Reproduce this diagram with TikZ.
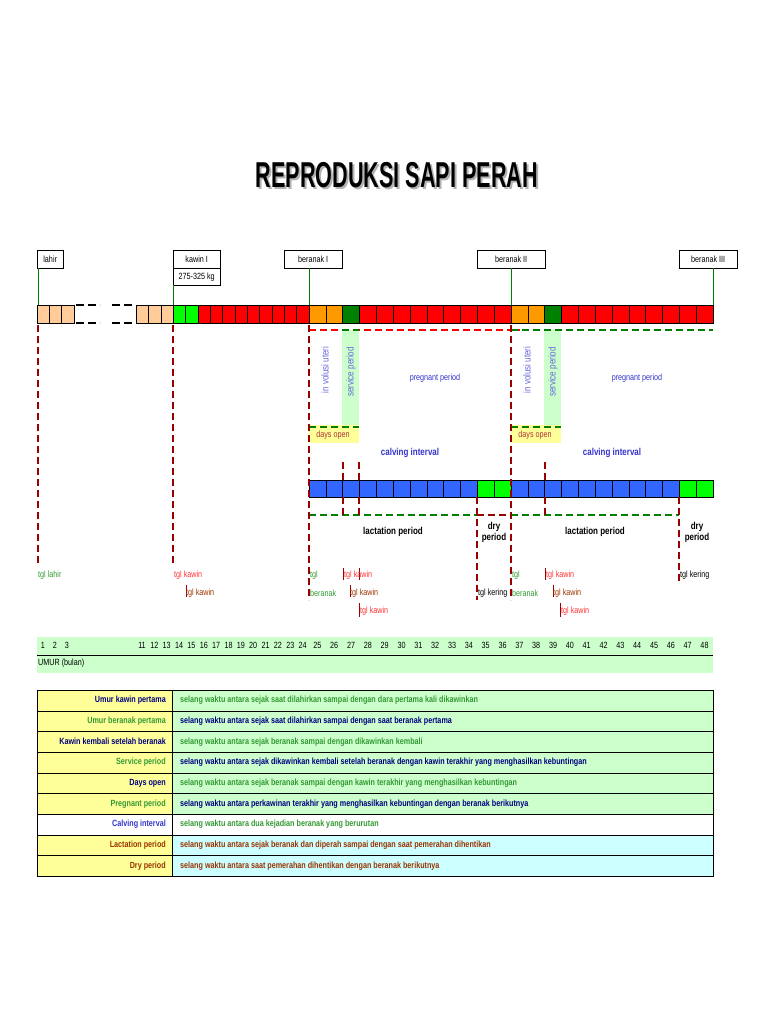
\documentclass[tikz,border=0pt]{standalone}
\usepackage{fontspec}
\setmainfont{Liberation Sans}[FakeStretch=0.8]
\newfontfamily\titlefont{Liberation Sans}[FakeStretch=0.6]
\definecolor{peach}{HTML}{FFCC99}
\definecolor{lgreen}{HTML}{00FF00}
\definecolor{dgreen}{HTML}{008000}
\definecolor{orng}{HTML}{FF9900}
\definecolor{bblue}{HTML}{3366FF}
\definecolor{pale}{HTML}{CCFFCC}
\definecolor{yel}{HTML}{FFFF99}
\definecolor{cyn}{HTML}{CCFFFF}
\definecolor{dred}{HTML}{990000}
\definecolor{navy}{HTML}{000080}
\definecolor{txg}{HTML}{339933}
\definecolor{txb}{HTML}{3333CC}
\definecolor{brn}{HTML}{993300}
\definecolor{txr}{HTML}{FF3333}
\begin{document}
\begin{tikzpicture}[x=1pt,y=-1pt,
  lab/.style={draw,fill=white,inner sep=1pt,font=\fontsize{9}{10}\selectfont,anchor=north west},
  small/.style={font=\fontsize{9}{10}\selectfont,inner sep=0pt},
  vd/.style={dred,dashed,dash pattern=on 7pt off 4pt,line width=1.4pt},
  gd/.style={dgreen,dash pattern=on 7pt off 4pt,line width=1.4pt},
  rd/.style={red,dash pattern=on 7pt off 4pt,line width=1.4pt},
  gl/.style={dgreen,line width=1pt},
  bold/.style={font=\fontsize{10}{11}\selectfont\bfseries,inner sep=0pt}]
\useasboundingbox (0,0) rectangle (768,1024);
% title
\node[font=\titlefont\bfseries\fontsize{36}{38}\selectfont,text=gray!60,inner sep=0pt] at (399,177) {REPRODUKSI SAPI PERAH};
\node[font=\titlefont\bfseries\fontsize{36}{38}\selectfont,inner sep=0pt] (title) at (397,175) {REPRODUKSI SAPI PERAH};
% top bar cells
\def\cellw{16.83}
\foreach \x in {37,49.3,61.6} \draw[fill=peach] (\x,305) rectangle ++(12.3,18);
\foreach \i in {0,1,2} \draw[fill=peach] ({136+\i*12.36},305) rectangle ++(12.36,18);
\foreach \i in {3,4} \draw[fill=lgreen] ({136+\i*12.36},305) rectangle ++(12.36,18);
\foreach \i in {5,...,13} \draw[fill=red] ({136+\i*12.36},305) rectangle ++(12.36,18);
\foreach \k in {25,...,48}{
  \pgfmathtruncatemacro{\m}{mod(\k-25,12)}
  \ifnum\m<2 \def\cc{orng}\else\ifnum\m=2 \def\cc{dgreen}\else\def\cc{red}\fi\fi
  \draw[fill=\cc] ({309+(\k-25)*\cellw},305) rectangle ++(\cellw,18);
}
% dashes in gap
\draw[line width=2pt,dash pattern=on 8pt off 4pt] (76,305) -- (100,305) (112,305) -- (134,305) (76,323) -- (100,323) (112,323) -- (134,323);
\fill[white] (101,303) rectangle (111,325);
% label boxes
\node[lab,minimum width=26pt,minimum height=18pt] (lahir) at (37,250) {lahir};
\node[lab,minimum width=47pt,minimum height=18pt] (kawin) at (173,250) {kawin I};
\node[lab,minimum width=47pt,minimum height=17pt] (kg) at (173,268) {275-325 kg};
\node[lab,minimum width=58pt,minimum height=18pt] (ber1) at (284,250) {beranak I};
\node[lab,minimum width=68pt,minimum height=18pt] (ber2) at (477,250) {beranak II};
\node[lab,minimum width=58pt,minimum height=18pt] (ber3) at (679,250) {beranak III};
\coordinate (c1) at (38,305); \coordinate (c2) at (173,305); \coordinate (c3) at (309,305);
\coordinate (c4) at (511,305); \coordinate (c5) at (713,305);
\draw[gl] (38,268) -- (c1); \draw[gl] (kg.south west) -- (c2);
\draw[gl] (309,268) -- (c3); \draw[gl] (511,268) -- (c4); \draw[gl] (713,268) -- (c5);
% regions
\foreach \o in {0,202}{
 \fill[pale] ({342+\o},330) rectangle ({359+\o},425);
 \fill[yel] ({309+\o},425) rectangle ({359+\o},443);
 \draw[gd] ({309+\o},427) -- ({359+\o},427);
 \node[rotate=90,font=\fontsize{10}{11}\selectfont,inner sep=0pt,text=txb!75] at ({325+\o},370) {in volusi uteri};
 \node[rotate=90,font=\fontsize{10}{11}\selectfont,inner sep=0pt,text=txb!75] at ({351+\o},372) {service period};
 \node[small,text=dred!80] at ({333+\o},435) {days open};
 \node[small,text=txb] at ({435+\o},378) {pregnant period};
 \node[bold,text=txb] at ({410+\o},453) {calving interval};
 \node[bold] at ({393+\o},532) {lactation period};
}
\draw[rd] (309,330) -- (520,330);
\draw[gd] (511,330) -- (713,330);
\draw[gd] (342,330) -- (359,330);
% blue bar
\foreach \k in {25,...,48}{
  \pgfmathtruncatemacro{\m}{mod(\k-25,12)}
  \ifnum\m>9 \def\cc{lgreen}\else\def\cc{bblue}\fi
  \draw[fill=\cc] ({309+(\k-25)*\cellw},480) rectangle ++(\cellw,17);
}
\draw[gd] (309,515) -- (477,515);
\draw[gd] (511,515) -- (679,515);
\draw[vd] (477,515) -- (511,515);
\node[bold,align=center] at (494,532) {dry\\period};
\node[bold,align=center] at (697,532) {dry\\period};
% vertical dashed lines
\draw[vd] (38,325) -- (38,566);
\draw[vd] (173,325) -- (173,566);
\draw[vd] (309,325) -- (309,600);
\draw[vd] (511,325) -- (511,600);
\foreach \x in {343,359,545}{\draw[vd] (\x,462) -- (\x,480); \draw[vd] (\x,497) -- (\x,515);}
\draw[vd] (477,497) -- (477,600);
\draw[vd] (679,497) -- (679,582);
% ticks and labels
\draw[dred,line width=1pt] (343,568)--(343,580) (359,568)--(359,580) (186,585)--(186,597) (350,585)--(350,597) (359,603)--(359,617) (545,568)--(545,580) (553,585)--(553,597) (560,603)--(560,617);
\node[small,text=txg,anchor=west] (tl) at (38,575) {tgl lahir};
\node[small,text=txr,anchor=west] at (174,575) {tgl kawin};
\node[small,text=brn,anchor=west] at (186,593) {tgl kawin};
\node[small,text=txg,anchor=west] at (310,575) {tgl};
\node[small,text=txg,anchor=west] at (310,593) {beranak};
\node[small,text=txr,anchor=west] at (344,575) {tgl kawin};
\node[small,text=brn,anchor=west] at (350,593) {tgl kawin};
\node[small,text=txr,anchor=west] at (360,611) {tgl kawin};
\node[small,anchor=west] at (478,593) {tgl kering};
\node[small,text=txg,anchor=west] at (512,575) {tgl};
\node[small,text=txg,anchor=west] at (512,593) {beranak};
\node[small,text=txr,anchor=west] at (546,575) {tgl kawin};
\node[small,text=brn,anchor=west] at (553,593) {tgl kawin};
\node[small,text=txr,anchor=west] at (561,611) {tgl kawin};
\node[small,anchor=west] at (680,575) {tgl kering};
% axis
\fill[pale] (37,637) rectangle (713,673);
\draw[line width=1pt] (37,655) -- (713,655);
\foreach \k/\x in {1/43,2/55,3/67} \node[small] at (\x,645) {\k};
\foreach \k in {11,...,24} \node[small] at ({142+(\k-11)*12.36},645) {\k};
\foreach \k in {25,...,48} \node[small] at ({317.4+(\k-25)*\cellw},645) {\k};
\node[small,anchor=west] at (38,663) {UMUR (bulan)};
% table
\def\rh{20.7}
\foreach \l/\r/\lc/\rc/\lt/\rt [count=\i from 0] in {
 Umur kawin pertama/selang waktu antara sejak saat dilahirkan sampai dengan dara pertama kali dikawinkan/yel/pale/navy/txg,
 Umur beranak pertama/selang waktu antara sejak saat dilahirkan sampai dengan saat beranak pertama/yel/pale/txg/navy,
 Kawin kembali setelah beranak/selang waktu antara sejak beranak sampai dengan dikawinkan kembali/yel/pale/navy/txg,
 Service period/selang waktu antara sejak dikawinkan kembali setelah beranak dengan kawin terakhir yang menghasilkan kebuntingan/yel/pale/txg/navy,
 Days open/selang waktu antara sejak beranak sampai dengan kawin terakhir yang menghasilkan kebuntingan/yel/pale/navy/txg,
 Pregnant period/selang waktu antara perkawinan terakhir yang menghasilkan kebuntingan dengan beranak berikutnya/yel/pale/txg/navy,
 Calving interval/selang waktu antara dua kejadian beranak yang berurutan/white/white/txb/txg,
 Lactation period/selang waktu antara sejak beranak dan diperah sampai dengan saat pemerahan dihentikan/yel/cyn/brn/brn,
 Dry period/selang waktu antara saat pemerahan dihentikan dengan beranak berikutnya/yel/cyn/brn/brn}{
 \draw[fill=\lc] (37,{690+\i*\rh}) rectangle (172,{690+(\i+1)*\rh});
 \draw[fill=\rc] (172,{690+\i*\rh}) rectangle (713,{690+(\i+1)*\rh});
 \node[small,font=\fontsize{9}{10}\selectfont\bfseries,text=\lt,anchor=east] (L\i) at (166,{690+(\i+0.5)*\rh}) {\l};
 \node[small,font=\fontsize{9}{10}\selectfont\bfseries,text=\rt,anchor=west] (R\i) at (180,{690+(\i+0.5)*\rh}) {\r};
}
\draw[line width=1pt] (37,690) rectangle (713,{690+9*\rh});
\end{tikzpicture}
\end{document}
